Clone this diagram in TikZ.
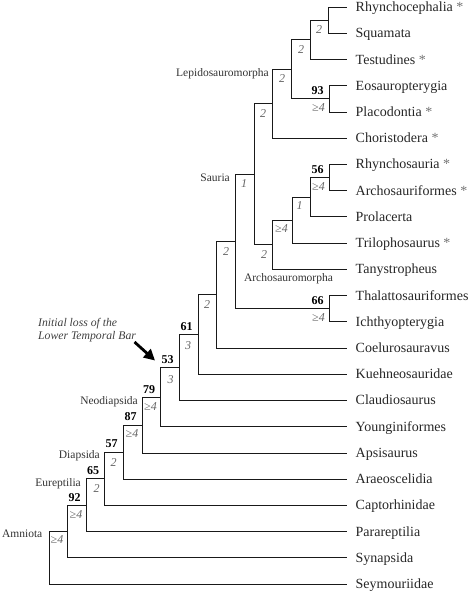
\documentclass[tikz,border=0pt]{standalone}
\usepackage{fontspec}
\setmainfont{Liberation Serif}
\usetikzlibrary{calc,arrows.meta}
\newcommand{\astk}{\ {\color{black!55}*}}
\begin{document}
\begin{tikzpicture}[x=1pt,y=-1pt,
  branch/.style={draw=black!90, line width=0.75pt},
  leaf/.style={anchor=west, inner xsep=8.5pt, inner ysep=0pt, text height=9.5pt, text depth=0.5pt, font=\fontsize{14}{16}\selectfont, text=black!85},
  clade/.style={font=\fontsize{11.5}{13}\selectfont, text=black!80, inner sep=0pt},
  boot/.style={font=\fontsize{12}{14}\selectfont\bfseries, inner sep=0pt},
  brem/.style={font=\fontsize{12}{14}\selectfont\itshape, text=black!60, inner sep=0pt},
  note/.style={font=\fontsize{11.7}{13}\selectfont\itshape, text=black!75, inner sep=0pt, align=left},
  bigarrow/.style={line width=2.8pt, -{Triangle[length=11pt,width=11pt]}}]
\useasboundingbox (0,0) rectangle (474,594);

% leaves
\node[leaf] (t0)  at (347,7.0)   {Rhynchocephalia\astk};
\node[leaf] (t1)  at (347,33.2)  {Squamata};
\node[leaf] (t2)  at (347,59.5)  {Testudines\astk};
\node[leaf] (t3)  at (347,85.7)  {Eosauropterygia};
\node[leaf] (t4)  at (347,111.9) {Placodontia\astk};
\node[leaf] (t5)  at (347,138.1) {Choristodera\astk};
\node[leaf] (t6)  at (347,164.4) {Rhynchosauria\astk};
\node[leaf] (t7)  at (347,190.6) {Archosauriformes\astk};
\node[leaf] (t8)  at (347,216.8) {Prolacerta};
\node[leaf] (t9)  at (347,243.0) {Trilophosaurus\astk};
\node[leaf] (t10) at (347,269.3) {Tanystropheus};
\node[leaf] (t11) at (347,295.5) {Thalattosauriformes};
\node[leaf] (t12) at (347,321.7) {Ichthyopterygia};
\node[leaf] (t13) at (347,347.9) {Coelurosauravus};
\node[leaf] (t14) at (347,374.2) {Kuehneosauridae};
\node[leaf] (t15) at (347,400.4) {Claudiosaurus};
\node[leaf] (t16) at (347,426.6) {Younginiformes};
\node[leaf] (t17) at (347,452.9) {Apsisaurus};
\node[leaf] (t18) at (347,479.1) {Araeoscelidia};
\node[leaf] (t19) at (347,505.3) {Captorhinidae};
\node[leaf] (t20) at (347,531.5) {Parareptilia};
\node[leaf] (t21) at (347,557.8) {Synapsida};
\node[leaf] (t22) at (347,584.0) {Seymouriidae};

% internal nodes
\coordinate (A) at (328,20.1);
\coordinate (B) at (310,39.8);
\coordinate (C) at (329,98.8);
\coordinate (D) at (291,69.3);
\coordinate (E) at (272,103.7);
\coordinate (K) at (329,177.5);
\coordinate (J) at (310,197.2);
\coordinate (I) at (292,220.1);
\coordinate (H) at (272,244.7);
\coordinate (F) at (254,174.2);
\coordinate (L) at (329,308.6);
\coordinate (G) at (235,241.4);
\coordinate (M) at (216.5,294.7);
\coordinate (N) at (198,334.5);
\coordinate (O) at (179,367.5);
\coordinate (P) at (160.5,397.1);
\coordinate (Q) at (142,425.0);
\coordinate (R) at (123,452.1);
\coordinate (S) at (104.5,478.7);
\coordinate (T) at (86,505.1);
\coordinate (U) at (67,531.5);
\coordinate (V) at (49,557.8);

% branches
\draw[branch] (A) |- (t0.west);  \draw[branch] (A) |- (t1.west);
\draw[branch] (B) |- (A);        \draw[branch] (B) |- (t2.west);
\draw[branch] (C) |- (t3.west);  \draw[branch] (C) |- (t4.west);
\draw[branch] (D) |- (B);        \draw[branch] (D) |- (C);
\draw[branch] (E) |- (D);        \draw[branch] (E) |- (t5.west);
\draw[branch] (K) |- (t6.west);  \draw[branch] (K) |- (t7.west);
\draw[branch] (J) |- (K);        \draw[branch] (J) |- (t8.west);
\draw[branch] (I) |- (J);        \draw[branch] (I) |- (t9.west);
\draw[branch] (H) |- (I);        \draw[branch] (H) |- (t10.west);
\draw[branch] (F) |- (E);        \draw[branch] (F) |- (H);
\draw[branch] (L) |- (t11.west); \draw[branch] (L) |- (t12.west);
\draw[branch] (G) |- (F);        \draw[branch] (G) |- (L);
\draw[branch] (M) |- (G);        \draw[branch] (M) |- (t13.west);
\draw[branch] (N) |- (M);        \draw[branch] (N) |- (t14.west);
\draw[branch] (O) |- (N);        \draw[branch] (O) |- (t15.west);
\draw[branch] (P) |- (O);        \draw[branch] (P) |- (t16.west);
\draw[branch] (Q) |- (P);        \draw[branch] (Q) |- (t17.west);
\draw[branch] (R) |- (Q);        \draw[branch] (R) |- (t18.west);
\draw[branch] (S) |- (R);        \draw[branch] (S) |- (t19.west);
\draw[branch] (T) |- (S);        \draw[branch] (T) |- (t20.west);
\draw[branch] (U) |- (T);        \draw[branch] (U) |- (t21.west);
\draw[branch] (V) |- (U);        \draw[branch] (V) |- (t22.west);

% bootstrap values
\node[boot] (bC) at ($(C)+(-11.5,-8)$) {93};
\node[boot] (bK) at ($(K)+(-11.5,-8)$) {56};
\node[boot] (bL) at ($(L)+(-11.5,-8)$) {66};
\node[boot] (bN) at ($(N)+(-11.5,-8)$) {61};
\node[boot] (bO) at ($(O)+(-11.5,-8)$) {53};
\node[boot] (bP) at ($(P)+(-11.5,-8)$) {79};
\node[boot] (bQ) at ($(Q)+(-11.5,-8)$) {87};
\node[boot] (bR) at ($(R)+(-11.5,-8)$) {57};
\node[boot] (bS) at ($(S)+(-11.5,-8)$) {65};
\node[boot] (bT) at ($(T)+(-11.5,-8)$) {92};

% Bremer values
\node[brem] (rA) at ($(A)+(-9,9.5)$) {2};
\node[brem] (rB) at ($(B)+(-9,9.5)$) {2};
\node[brem] (rC) at ($(C)+(-10.5,9)$) {≥4};
\node[brem] (rD) at ($(D)+(-9,9.5)$) {2};
\node[brem] (rE) at ($(E)+(-9,9.5)$) {2};
\node[brem] (rF) at ($(F)+(-10,9.5)$) {1};
\node[brem] (rG) at ($(G)+(-9,10.5)$) {2};
\node[brem] (rH) at ($(H)+(-8,9.5)$) {2};
\node[brem] (rI) at ($(I)+(-10.5,8.5)$) {≥4};
\node[brem] (rJ) at ($(J)+(-10.5,8.5)$) {1};
\node[brem] (rK) at ($(K)+(-10.5,9)$) {≥4};
\node[brem] (rL) at ($(L)+(-10.5,9)$) {≥4};
\node[brem] (rM) at ($(M)+(-9.5,10)$) {2};
\node[brem] (rN) at ($(N)+(-10,11.5)$) {3};
\node[brem] (rO) at ($(O)+(-8.5,12)$) {3};
\node[brem] (rP) at ($(P)+(-10,9)$) {≥4};
\node[brem] (rQ) at ($(Q)+(-10,8.5)$) {≥4};
\node[brem] (rR) at ($(R)+(-9.5,10.5)$) {2};
\node[brem] (rS) at ($(S)+(-8,10)$) {2};
\node[brem] (rT) at ($(T)+(-10,9)$) {≥4};
\node[brem] (rU) at ($(U)+(-10,8)$) {≥4};

% clade names
\node[clade, anchor=base east] (nLep) at (269,76) {Lepidosauromorpha};
\node[clade, anchor=base east] (nSau) at (230,181) {Sauria};
\node[clade, anchor=base] (nArc) at (288.5,281) {Archosauromorpha};
\node[clade, anchor=base east] (nNeo) at (138,404) {Neodiapsida};
\node[clade, anchor=base east] (nDia) at (100,458) {Diapsida};
\node[clade, anchor=base east] (nEur) at (81,486) {Eureptilia};
\node[clade, anchor=base east] (nAmn) at (42.5,537) {Amniota};

% annotation
\node[note, anchor=west] (note) at (38,330.5) {Initial loss of the\\Lower Temporal Bar};
\coordinate (arrtail) at (134.5,342);
\coordinate (arrhead) at (155,360.5);
\draw[bigarrow] (arrtail) -- (arrhead);
\end{tikzpicture}
\end{document}
